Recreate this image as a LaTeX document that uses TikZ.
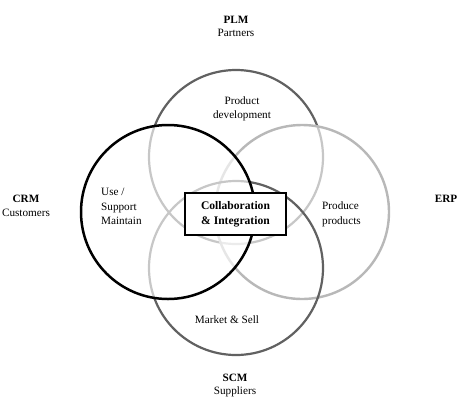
\documentclass[tikz,border=0pt]{standalone}
\usepackage{fontspec}
\setmainfont{Liberation Serif}
\begin{document}
\begin{tikzpicture}[x=1pt,y=-1pt,
  ring/.style={circle,minimum size=174pt,inner sep=0pt,line width=2.2pt},
  veil/.style={fill=white,fill opacity=0.65},
  lbl/.style={font=\fontsize{11.2}{13}\selectfont,align=center,inner sep=0pt},
  head/.style={font=\fontsize{11.2}{13}\selectfont\bfseries,inner sep=0pt},
  area/.style={font=\fontsize{11.2}{14.5}\selectfont,inner sep=0pt}]
\useasboundingbox (0,0) rectangle (474,400);
\fill[white] (0,0) rectangle (474,400);
% circles
\node[ring,draw=black!62] (plm) at (236,157) {};
\node[ring,draw=black!28,line width=2.4pt,veil,draw opacity=1] (erp) at (302,212) {};
\node[ring,draw=black!62] (scm) at (236,268) {};
\node[ring,draw=black,line width=2.5pt,veil,draw opacity=1] (crm) at (168,212) {};
% central box
\node[draw=black,line width=1.6pt,fill=white,minimum width=101pt,minimum height=42pt,align=center,inner sep=0pt,font=\fontsize{11.6}{15}\selectfont\bfseries] (ci) at (235.5,214) {Collaboration\\\& Integration};
% outer labels
\node[head] (plmh) at (236,20) {PLM};
\node[lbl] (plmp) at (236,33) {Partners};
\node[head] (crmh) at (26,199) {CRM};
\node[lbl] (crmp) at (26,213) {Customers};
\node[head] (erph) at (446,199) {ERP};
\node[head] (scmh) at (235,378) {SCM};
\node[lbl] (scmp) at (235,392) {Suppliers};
% area labels
\node[area,align=center] (pd) at (242,109) {Product\\development};
\node[area,align=left,anchor=north west] (usm) at (101,188) {Use /\\Support\\Maintain};
\node[area,align=left,anchor=north west] (pp) at (322,202) {Produce\\products};
\node[area] (ms) at (227,320) {Market \& Sell};
\end{tikzpicture}
\end{document}
